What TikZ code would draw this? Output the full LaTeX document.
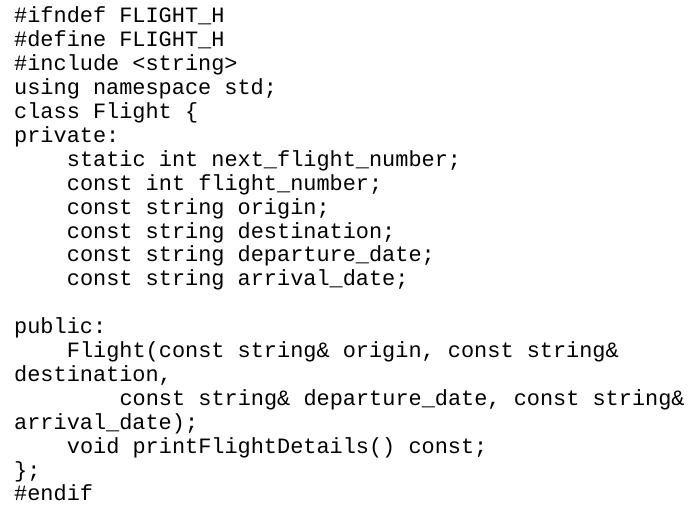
\documentclass[tikz,border=0pt]{standalone}
\usepackage{fontspec}
\setmonofont{Liberation Mono}
\begin{document}
\begin{tikzpicture}[x=1bp,y=1bp,
  codeline/.style={anchor=base west,inner sep=0pt,font=\ttfamily\fontsize{21.9bp}{24bp}\selectfont}]
\useasboundingbox[fill=white] (0,0) rectangle (700,520);
\def\cw{13.17}
\def\ls{23.9}
\newcommand\cl[3]{\node[codeline] (#1) at ({14+#2*\cw},{520-23-\ls*(#1)}) {#3};}
\cl{0}{0}{\#ifndef FLIGHT\_H}
\cl{1}{0}{\#define FLIGHT\_H}
\cl{2}{0}{\#include <string>}
\cl{3}{0}{using namespace std;}
\cl{4}{0}{class Flight \{}
\cl{5}{0}{private:}
\cl{6}{4}{static int next\_flight\_number;}
\cl{7}{4}{const int flight\_number;}
\cl{8}{4}{const string origin;}
\cl{9}{4}{const string destination;}
\cl{10}{4}{const string departure\_date;}
\cl{11}{4}{const string arrival\_date;}
\cl{13}{0}{public:}
\cl{14}{4}{Flight(const string\& origin, const string\&}
\cl{15}{0}{destination,}
\cl{16}{8}{const string\& departure\_date, const string\&}
\cl{17}{0}{arrival\_date);}
\cl{18}{4}{void printFlightDetails() const;}
\cl{19}{0}{\};}
\cl{20}{0}{\#endif}
\end{tikzpicture}
\end{document}
